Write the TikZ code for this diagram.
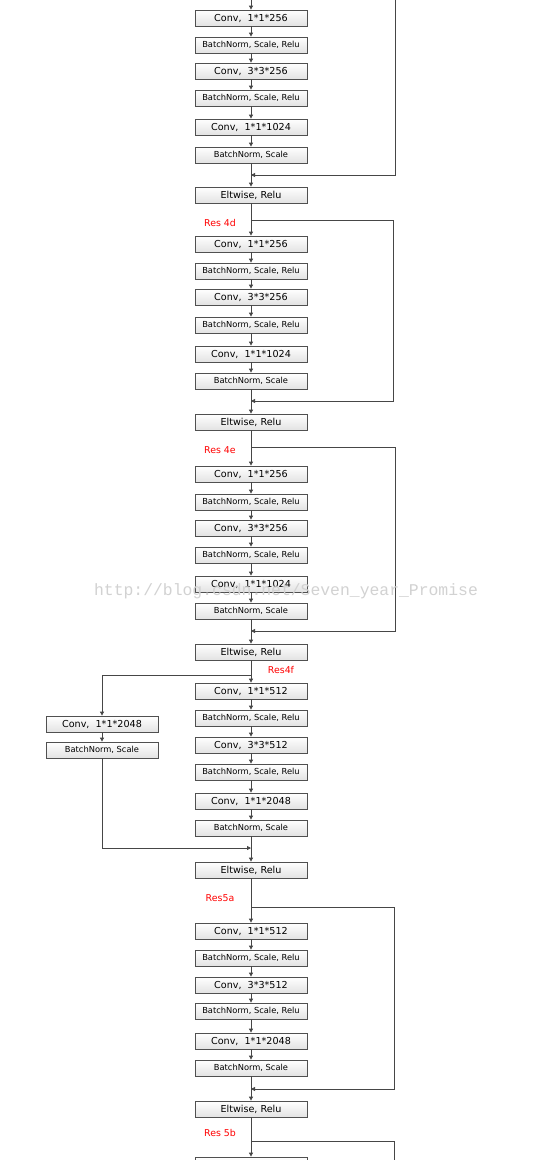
\documentclass[tikz,border=0pt]{standalone}
\usepackage{fontspec}
\setmainfont{DejaVu Sans}
\newfontfamily\wmfont{Liberation Mono}
\usetikzlibrary{shadows,arrows.meta}
\definecolor{lineclr}{RGB}{70,70,70}
\definecolor{boxedge}{RGB}{80,80,80}
\definecolor{wmclr}{RGB}{210,210,210}
\tikzset{
  blk/.style={draw=boxedge, line width=0.8pt, minimum width=112pt, minimum height=16pt, inner sep=0pt,
    top color=white, bottom color=gray!22, drop shadow={shadow xshift=1.3pt, shadow yshift=-1.3pt, opacity=0.5, fill=gray},
    font=\fontsize{9.6}{10}\selectfont},
  bnblk/.style={blk, font=\fontsize{8.3}{9}\selectfont},
  arr/.style={draw=lineclr, line width=0.8pt, -{Triangle[length=4pt,width=4pt]}},
  ln/.style={draw=lineclr, line width=0.8pt},
  reslbl/.style={text=red, font=\fontsize{9.4}{10}\selectfont, inner sep=0pt},
}
\begin{document}
\begin{tikzpicture}[x=1pt,y=-1pt]
\useasboundingbox (0,0) rectangle (554,1160);
\clip (0,0) rectangle (554,1160);
\fill[white] (0,0) rectangle (554,1160);
% ---- block A ----
\coordinate (aTop) at (251,0);
\coordinate (aSkT) at (395,0);
\coordinate (aSkB) at (395,175);
\coordinate (aRet) at (251,175);
\node[blk] (a1) at (251,18) {Conv,\ \ 1*1*256};
\node[bnblk] (a2) at (251,45) {BatchNorm, Scale, Relu};
\node[blk] (a3) at (251,71) {Conv,\ \ 3*3*256};
\node[bnblk] (a4) at (251,98) {BatchNorm, Scale, Relu};
\node[blk] (a5) at (251,127) {Conv,\ \ 1*1*1024};
\node[bnblk] (a6) at (251,155) {BatchNorm, Scale};
\node[blk] (ea) at (251,195) {Eltwise, Relu};
\draw[arr] (aTop) -- (a1);
\draw[arr] (a1) -- (a2); \draw[arr] (a2) -- (a3); \draw[arr] (a3) -- (a4);
\draw[arr] (a4) -- (a5); \draw[arr] (a5) -- (a6); \draw[arr] (a6) -- (ea);
\draw[arr] (aSkT) -- (aSkB) -- (aRet);
% ---- block B (Res 4d) ----
\node[reslbl] (lb) at (220,223) {Res 4d};
\coordinate (bOut) at (251,220);
\coordinate (bR1) at (393,220);
\coordinate (bR2) at (393,401);
\coordinate (bRet) at (251,401);
\node[blk] (b1) at (251,244) {Conv,\ \ 1*1*256};
\node[bnblk] (b2) at (251,271) {BatchNorm, Scale, Relu};
\node[blk] (b3) at (251,297) {Conv,\ \ 3*3*256};
\node[bnblk] (b4) at (251,325) {BatchNorm, Scale, Relu};
\node[blk] (b5) at (251,354) {Conv,\ \ 1*1*1024};
\node[bnblk] (b6) at (251,381) {BatchNorm, Scale};
\node[blk] (eb) at (251,422) {Eltwise, Relu};
\draw[arr] (ea) -- (b1);
\draw[arr] (b1) -- (b2); \draw[arr] (b2) -- (b3); \draw[arr] (b3) -- (b4);
\draw[arr] (b4) -- (b5); \draw[arr] (b5) -- (b6); \draw[arr] (b6) -- (eb);
\draw[arr] (bOut) -- (bR1) -- (bR2) -- (bRet);
% ---- block C (Res 4e) ----
\node[reslbl] (lc) at (220,450) {Res 4e};
\coordinate (cOut) at (251,447);
\coordinate (cR1) at (395,447);
\coordinate (cR2) at (395,631);
\coordinate (cRet) at (251,631);
\node[blk] (c1) at (251,474) {Conv,\ \ 1*1*256};
\node[bnblk] (c2) at (251,502) {BatchNorm, Scale, Relu};
\node[blk] (c3) at (251,528) {Conv,\ \ 3*3*256};
\node[bnblk] (c4) at (251,555) {BatchNorm, Scale, Relu};
\node[blk] (c5) at (251,584) {Conv,\ \ 1*1*1024};
\node[bnblk] (c6) at (251,611) {BatchNorm, Scale};
\node[blk] (ec) at (251,652) {Eltwise, Relu};
\draw[arr] (eb) -- (c1);
\draw[arr] (c1) -- (c2); \draw[arr] (c2) -- (c3); \draw[arr] (c3) -- (c4);
\draw[arr] (c4) -- (c5); \draw[arr] (c5) -- (c6); \draw[arr] (c6) -- (ec);
\draw[arr] (cOut) -- (cR1) -- (cR2) -- (cRet);
% ---- block D (Res4f) ----
\node[reslbl] (ld) at (281,670) {Res4f};
\coordinate (dOut) at (251,675);
\coordinate (dL1) at (102,675);
\coordinate (dL2) at (102,848);
\coordinate (dRet) at (251,848);
\node[blk] (d1) at (251,691) {Conv,\ \ 1*1*512};
\node[bnblk] (d2) at (251,718) {BatchNorm, Scale, Relu};
\node[blk] (d3) at (251,745) {Conv,\ \ 3*3*512};
\node[bnblk] (d4) at (251,772) {BatchNorm, Scale, Relu};
\node[blk] (d5) at (251,801) {Conv,\ \ 1*1*2048};
\node[bnblk] (d6) at (251,828) {BatchNorm, Scale};
\node[blk] (l1) at (102,724) {Conv,\ \ 1*1*2048};
\node[bnblk] (l2) at (102,750) {BatchNorm, Scale};
\node[blk] (ed) at (251,870) {Eltwise, Relu};
\draw[arr] (ec) -- (d1);
\draw[arr] (d1) -- (d2); \draw[arr] (d2) -- (d3); \draw[arr] (d3) -- (d4);
\draw[arr] (d4) -- (d5); \draw[arr] (d5) -- (d6); \draw[arr] (d6) -- (ed);
\draw[arr] (dOut) -- (dL1) -- (l1);
\draw[arr] (l1) -- (l2);
\draw[arr] (l2) -- (dL2) -- (dRet);
% ---- block E (Res5a) ----
\node[reslbl] (le) at (220,898) {Res5a};
\coordinate (eOut) at (251,907);
\coordinate (eR1) at (394,907);
\coordinate (eR2) at (394,1089);
\coordinate (eRet) at (251,1089);
\node[blk] (e1) at (251,931) {Conv,\ \ 1*1*512};
\node[bnblk] (e2) at (251,958) {BatchNorm, Scale, Relu};
\node[blk] (e3) at (251,985) {Conv,\ \ 3*3*512};
\node[bnblk] (e4) at (251,1011) {BatchNorm, Scale, Relu};
\node[blk] (e5) at (251,1041) {Conv,\ \ 1*1*2048};
\node[bnblk] (e6) at (251,1068) {BatchNorm, Scale};
\node[blk] (ee) at (251,1109) {Eltwise, Relu};
\draw[arr] (ed) -- (e1);
\draw[arr] (e1) -- (e2); \draw[arr] (e2) -- (e3); \draw[arr] (e3) -- (e4);
\draw[arr] (e4) -- (e5); \draw[arr] (e5) -- (e6); \draw[arr] (e6) -- (ee);
\draw[arr] (eOut) -- (eR1) -- (eR2) -- (eRet);
% ---- block F (Res 5b) ----
\node[reslbl] (lf) at (220,1133) {Res 5b};
\coordinate (fOut) at (251,1141);
\coordinate (fR1) at (394,1141);
\coordinate (fR2) at (394,1170);
\node[blk] (f1) at (251,1165) {};
\draw[arr] (ee) -- (f1);
\draw[ln] (fOut) -- (fR1) -- (fR2);
% ---- watermark ----
\node[text=wmclr, font=\wmfont\fontsize{16.4}{18}\selectfont, inner sep=0pt] (wm) at (286,591) {http://blog.csdn.net/Seven\_year\_Promise};
\end{tikzpicture}
\end{document}
